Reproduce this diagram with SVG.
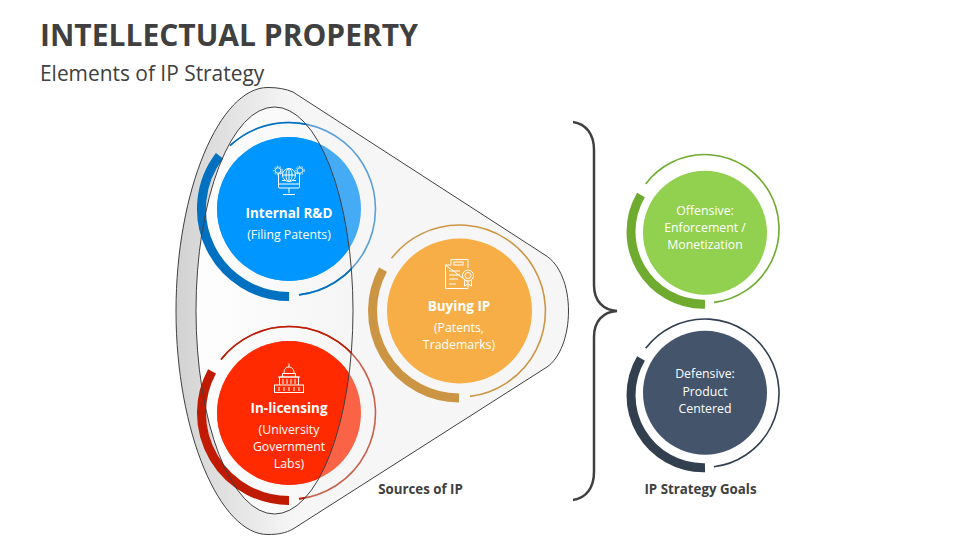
<svg xmlns="http://www.w3.org/2000/svg" width="960" height="540" viewBox="0 0 960 540">
<style>
text{font-family:"Open Sans","Liberation Sans",sans-serif;text-anchor:middle}
.t{fill:#fff;font-size:12.300px}
.b{fill:#fff;font-size:13.500px;font-weight:700}
.cap{fill:#404040;font-size:13.300px;font-weight:700}
.thin,.thick,.icon,.outline{fill:none}
.thin{stroke-width:1.600}
.thick{stroke-width:9}
.icon{stroke:#fff;stroke-width:1}
.outline{stroke:#404040;stroke-width:1}
</style>
<defs>
<linearGradient id="fun" gradientUnits="userSpaceOnUse" x1="176" y1="0" x2="295" y2="0"><stop offset="0" stop-color="#d2d2d2"/><stop offset="1" stop-color="#f6f6f6"/></linearGradient>
<linearGradient id="inn" gradientUnits="userSpaceOnUse" x1="196" y1="0" x2="353" y2="0"><stop offset="0" stop-color="#fefefe"/><stop offset="1" stop-color="#f5f5f5"/></linearGradient>
<clipPath id="inner"><ellipse cx="274.500" cy="310.500" rx="78.500" ry="203.500"/></clipPath>
</defs>
<text x="40" y="46" style="font-size:30px;font-weight:700;fill:#404040;text-anchor:start">INTELLECTUAL PROPERTY</text>
<text x="40" y="81" style="font-size:20.900px;fill:#404040;text-anchor:start">Elements of IP Strategy</text>

<g id="funnel">
<path d="M268 87.500C220 87 176 190 176 311C176 432 220 535 268 534.500C278 534.500 286 533 293 529L547 367C560 358 568.500 336 568.500 311C568.500 286 560 264 545 255L293 92C286 89 278 87.500 268 87.500Z" fill="url(#fun)" stroke="#404040" stroke-width="1"/>
<ellipse cx="274.500" cy="310.500" rx="78.500" ry="203.500" fill="url(#inn)"/>
</g>

<g id="node-internal-rd">
<circle cx="289" cy="209" r="72" fill="#46abf5"/>
<circle cx="289" cy="209" r="72" fill="#0096ff" clip-path="url(#inner)"/>
<path class="thick" stroke="#0070c0" d="M289 296.500A87.500 87.500 0 0 1 219.500 155.800"/>
<path class="thin" stroke="#5aa0d8" d="M299 294.900A86.500 86.500 0 1 0 230 145.700"/>
<path class="thin" stroke="#0070c0" clip-path="url(#inner)" d="M299 294.900A86.500 86.500 0 1 0 230 145.700"/>
<g class="icon">
<rect x="278.500" y="173" width="21" height="15" rx="1"/>
<path d="M289 188V193M283 194.500H295M278.500 184H299.500M282 180.500H296"/>
<circle cx="289" cy="175" r="6.500" fill="#0096ff"/>
<ellipse cx="289" cy="175" rx="3" ry="6.500"/>
<path d="M282.500 175H295.500M289 168.500V181.500"/>
<circle cx="278" cy="170.500" r="2.800" fill="#0096ff"/>
<circle cx="300" cy="170.500" r="2.800" fill="#0096ff"/>
<circle cx="278" cy="170.500" r="4.200" stroke-dasharray="1.500 1.500"/>
<circle cx="300" cy="170.500" r="4.200" stroke-dasharray="1.500 1.500"/>
</g>
<text class="b" x="289" y="217.500">Internal R&amp;D</text>
<text class="t" x="289" y="239">(Filing Patents)</text>
</g>

<g id="node-in-licensing">
<circle cx="289" cy="413" r="72" fill="#fb6347"/>
<circle cx="289" cy="413" r="72" fill="#ff2a00" clip-path="url(#inner)"/>
<path class="thick" stroke="#c01a00" d="M289 500.500A87.500 87.500 0 0 1 212 371.400"/>
<path class="thin" stroke="#c8604c" d="M299 498.900A86.500 86.500 0 1 0 221 359.500"/>
<path class="thin" stroke="#c01a00" clip-path="url(#inner)" d="M299 498.900A86.500 86.500 0 1 0 221 359.500"/>
<g class="icon">
<rect x="274.500" y="385" width="29" height="7.500"/>
<path d="M279.500 385V377H298.500V385M278 377H300M282.500 377V373.500H295.500V377M284 373.500C284 369 286 367 289 367C292 367 294 369 294 373.500M289 367V363.500"/>
<path d="M283 379V384M287 379V384M291 379V384M295 379V384M279 387V391M284 387V391M289 387V391M294 387V391M299 387V391"/>
</g>
<text class="b" x="289" y="412.500">In-licensing</text>
<text class="t" x="289" y="434">(University</text>
<text class="t" x="289" y="451">Government</text>
<text class="t" x="289" y="467.500">Labs)</text>
</g>

<g id="node-buying-ip">
<circle cx="459.500" cy="311" r="72.500" fill="#f7ae46"/>
<path class="thick" stroke="#cc9543" d="M459 398A87 87 0 0 1 383 269.600"/>
<path class="thin" stroke="#cc9543" d="M470 396.400A86 86 0 1 0 391.500 258.300"/>
<g class="icon">
<path d="M451 259.500H468V268M468 282V288.500H445.500V265Z"/>
<path d="M451 259.500V265H445.500"/>
<rect x="454" y="262" width="9" height="3"/>
<path d="M449 271H460M449 275H460M449 279H458M449 284H456"/>
<circle cx="468" cy="275.500" r="5.500"/>
<circle cx="468" cy="275.500" r="3"/>
<path d="M464.500 280.500V286L468 284L471.500 286V280.500"/>
</g>
<text class="b" x="459" y="310.500">Buying IP</text>
<text class="t" x="459" y="331.500">(Patents,</text>
<text class="t" x="459" y="348.500">Trademarks)</text>
</g>

<g id="node-offensive">
<circle cx="705" cy="232.700" r="62" fill="#92d050"/>
<path class="thick" stroke="#6fab2e" d="M705 304.200A72.500 72.500 0 0 1 641 195"/>
<path class="thin" stroke="#6fab2e" d="M714 302.400A74.200 74.200 0 1 0 645.700 183.900"/>
<text class="t" x="705" y="214.700">Offensive:</text>
<text class="t" x="705" y="232">Enforcement /</text>
<text class="t" x="705" y="249">Monetization</text>
</g>

<g id="node-defensive">
<circle cx="705" cy="392.700" r="62" fill="#44546a"/>
<path class="thick" stroke="#323f4f" d="M705 467.700A72.500 72.500 0 0 1 641 358.500"/>
<path class="thin" stroke="#323f4f" d="M714 466.800A74.200 74.200 0 1 0 645.700 348.300"/>
<text class="t" x="705" y="378.300">Defensive:</text>
<text class="t" x="705" y="395.500">Product</text>
<text class="t" x="705" y="412.500">Centered</text>
</g>

<g id="connectors">
<ellipse class="outline" cx="274.500" cy="310.500" rx="78.500" ry="203.500"/>
<path d="M573 122C586 124 594 134 594 150V285C594 301 603 310 617 311C603 312 594 321 594 337V472C594 488 586 498 573 500" fill="none" stroke="#404040" stroke-width="2.500"/>
</g>
<text class="cap" x="420.500" y="494">Sources of IP</text>
<text class="cap" x="700.500" y="494">IP Strategy Goals</text>
</svg>
